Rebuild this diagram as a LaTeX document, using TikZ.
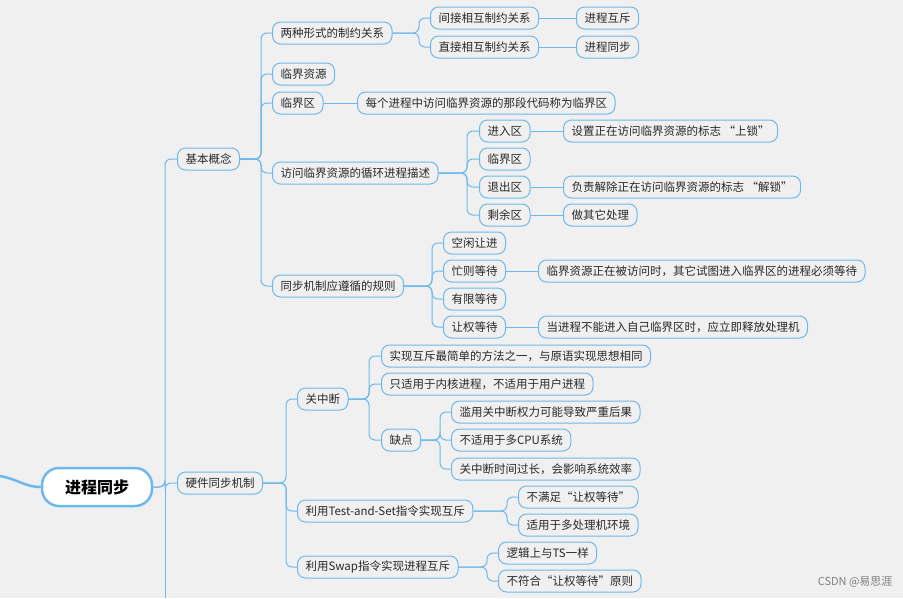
\documentclass[tikz,border=0pt]{standalone}
\usepackage{fontspec}
\setmainfont{Noto Sans CJK SC}
\definecolor{bg}{RGB}{240,240,240}
\definecolor{ln}{RGB}{110,185,235}
\definecolor{tx}{RGB}{40,40,40}
\tikzset{
  box/.style={draw=ln,line width=1pt,fill=bg,rounded corners=8pt,anchor=west,
    minimum height=22pt,inner xsep=8pt,inner ysep=0pt,text=tx,font=\fontsize{11.5}{13}\selectfont},
  rootbox/.style={draw=ln,line width=2.5pt,fill=white,rounded corners=17pt,
    minimum height=38pt,minimum width=110pt,text=black,font=\fontsize{16}{18}\selectfont\bfseries},
  conn/.style={draw=ln,line width=1pt,rounded corners=6pt}
}
\newcommand\br[3]{\coordinate (tk) at (#2,0);
  \foreach \c in {#3}{\draw[conn] (#1.east) -- (#1.east -| tk) |- (\c.west);}}
\begin{document}
\begin{tikzpicture}[x=1pt,y=-1pt]
\fill[bg] (0,0) rectangle (903,598);
\useasboundingbox (0,0) rectangle (903,598);
\node[rootbox] (root) at (97,487) {进程同步};
\draw[ln,line width=2.5pt] (0,476) .. controls (20,480) and (25,487) .. (root.west);
% level 1
\node[box] (jb) at (177,159) {基本概念};
\node[box] (yj) at (177,483) {硬件同步机制};
% under jb
\node[box] (lz) at (272,33) {两种形式的制约关系};
\node[box] (ljzy) at (272,74) {临界资源};
\node[box] (ljq) at (272,103) {临界区};
\node[box] (fw) at (272,173) {访问临界资源的循环进程描述};
\node[box] (tb) at (272,286) {同步机制应遵循的规则};
\node[box] (jj) at (430,18) {间接相互制约关系};
\node[box] (zj) at (430,47) {直接相互制约关系};
\node[box] (hc) at (576,18) {进程互斥};
\node[box] (tbu) at (576,47) {进程同步};
\node[box] (mg) at (357,103) {每个进程中访问临界资源的那段代码称为临界区};
\node[box] (jr) at (479,131) {进入区};
\node[box] (lj2) at (479,159) {临界区};
\node[box] (tc) at (479,187) {退出区};
\node[box] (sy) at (479,215) {剩余区};
\node[box] (sz) at (563,131) {设置正在访问临界资源的标志 “上锁”};
\node[box] (fz) at (563,187) {负责解除正在访问临界资源的标志 “解锁”};
\node[box] (zq) at (563,215) {做其它处理};
\node[box] (kx) at (443,243) {空闲让进};
\node[box] (mz) at (443,271) {忙则等待};
\node[box] (yx) at (443,299) {有限等待};
\node[box] (rq) at (443,327) {让权等待};
\node[box] (lzy) at (538,271) {临界资源正在被访问时，其它试图进入临界区的进程必须等待};
\node[box] (dj) at (538,327) {当进程不能进入自己临界区时，应立即释放处理机};
% under yj
\node[box] (gz) at (297,399) {关中断};
\node[box] (ts) at (297,511) {利用Test-and-Set指令实现互斥};
\node[box] (sw) at (297,567) {利用Swap指令实现进程互斥};
\node[box] (sx) at (381,356) {实现互斥最简单的方法之一，与原语实现思想相同};
\node[box] (zs) at (381,384) {只适用于内核进程，不适用于用户进程};
\node[box] (qd) at (381,440) {缺点};
\node[box] (ly) at (451,412) {滥用关中断权力可能导致严重后果};
\node[box] (bs) at (451,440) {不适用于多CPU系统};
\node[box] (gs) at (451,469) {关中断时间过长，会影响系统效率};
\node[box] (bm) at (518,497) {不满足“让权等待”};
\node[box] (sy2) at (518,525) {适用于多处理机环境};
\node[box] (lj) at (498,553) {逻辑上与TS一样};
\node[box] (bf) at (498,581) {不符合“让权等待”原则};
% connectors
\br{root}{165}{jb,yj}
\draw[conn] (165,483) -- (165,598);
\br{jb}{261}{lz,ljzy,ljq,fw,tb}
\br{lz}{419}{jj,zj}
\draw[conn] (jj) -- (hc); \draw[conn] (zj) -- (tbu);
\draw[conn] (ljq) -- (mg);
\br{fw}{467}{jr,lj2,tc,sy}
\draw[conn] (jr) -- (sz); \draw[conn] (tc) -- (fz); \draw[conn] (sy) -- (zq);
\br{tb}{432}{kx,mz,yx,rq}
\draw[conn] (mz) -- (lzy); \draw[conn] (rq) -- (dj);
\br{yj}{286}{gz,ts,sw}
\br{gz}{369}{sx,zs,qd}
\br{qd}{440}{ly,bs,gs}
\br{ts}{507}{bm,sy2}
\br{sw}{487}{lj,bf}
\node[text=gray,font=\fontsize{11}{13}\selectfont,anchor=east] (wm) at (896,582) {CSDN @易思涯};
\end{tikzpicture}
\end{document}
